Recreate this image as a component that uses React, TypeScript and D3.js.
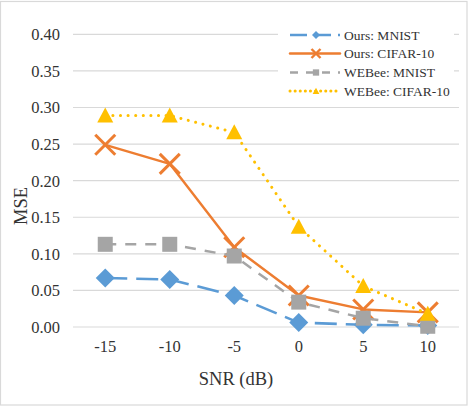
import React from 'react';
import * as d3 from 'd3';

const categories = ['-15', '-10', '-5', '0', '5', '10'];
const oursMnist = [0.067, 0.065, 0.043, 0.006, 0.003, 0.002];
const oursCifar = [0.249, 0.223, 0.109, 0.043, 0.024, 0.02];
const webeeMnist = [0.113, 0.113, 0.097, 0.034, 0.012, 0.001];
const webeeCifar = [0.289, 0.289, 0.266, 0.137, 0.056, 0.018];
const yTicks = [0, 0.05, 0.1, 0.15, 0.2, 0.25, 0.3, 0.35, 0.4];
const seriesNames = ['Ours: MNIST', 'Ours: CIFAR-10', 'WEBee: MNIST', 'WEBee: CIFAR-10'];

const W = 474;
const H = 407;
const FONT = 'Liberation Serif, Times New Roman, Times, serif';

type MType = 'diamond' | 'x' | 'square' | 'triangle';

const seriesDefs: { values: number[]; color: string; dash: string; cap: string; width: number; marker: MType }[] = [
  { values: oursMnist, color: '#5b9bd5', dash: '22 9', cap: 'butt', width: 2.6, marker: 'diamond' },
  { values: oursCifar, color: '#ed7d31', dash: 'none', cap: 'round', width: 2.4, marker: 'x' },
  { values: webeeMnist, color: '#a5a5a5', dash: '11 9', cap: 'butt', width: 2.5, marker: 'square' },
  { values: webeeCifar, color: '#ffc000', dash: '0.1 7.5', cap: 'round', width: 3, marker: 'triangle' },
];

function Marker({ type, x, y, s, color }: { type: MType; x: number; y: number; s: number; color: string }) {
  if (type === 'diamond') {
    const r = 9.5 * s;
    return <path d={`M${x},${y - r}L${x + r},${y}L${x},${y + r}L${x - r},${y}Z`} fill={color} />;
  }
  if (type === 'square') {
    const r = 7.5 * s;
    return <rect x={x - r} y={y - r} width={2 * r} height={2 * r} fill={color} />;
  }
  if (type === 'triangle') {
    const w = 8 * s;
    const h = 14 * s;
    return <path d={`M${x},${y - h / 2 - 1 * s}L${x + w},${y + h / 2}L${x - w},${y + h / 2}Z`} fill={color} />;
  }
  const r = 10 * s;
  return (
    <g stroke={color} strokeWidth={3 * Math.max(s, 0.8)}>
      <line x1={x - r} y1={y - r} x2={x + r} y2={y + r} />
      <line x1={x - r} y1={y + r} x2={x + r} y2={y - r} />
    </g>
  );
}

export default function App() {
  const x = d3.scaleBand<string>().domain(categories).range([73, 460]).padding(0);
  const y = d3.scaleLinear().domain([0, 0.4]).range([327, 34.3]);
  const cx = (c: string) => (x(c) as number) + x.bandwidth() / 2;
  const line = d3
    .line<number>()
    .x((_, i) => cx(categories[i]))
    .y((v) => y(v));

  const legendX0 = 290;
  const legendX1 = 340;
  const legendRows = [35, 53.5, 72.5, 91];
  const tStyle = { fontFamily: FONT };

  return (
    <svg width={W} height={H} style={{ position: 'absolute', left: 0, top: 0, background: '#fff', fontFamily: FONT }}>
      <rect x={0} y={0} width={W} height={H} fill="#fff" />
      <rect x={0.5} y={1.5} width={466.5} height={403.5} fill="none" stroke="#d9d9d9" strokeWidth={1.2} />
      {yTicks.map((t) => (
        <g key={t}>
          <line x1={73} x2={459} y1={y(t)} y2={y(t)} stroke="#d9d9d9" strokeWidth={1.2} />
          <text x={60} y={y(t)} dy="0.36em" textAnchor="end" fontSize={16.5} fill="#333" style={tStyle}>
            {t.toFixed(2)}
          </text>
        </g>
      ))}
      {categories.map((c) => (
        <text key={c} x={cx(c)} y={352} textAnchor="middle" fontSize={16.5} fill="#333" style={tStyle}>
          {c}
        </text>
      ))}
      <text x={236} y={385} textAnchor="middle" fontSize={18.5} fill="#333" style={tStyle}>
        SNR (dB)
      </text>
      <text transform="translate(27,206) rotate(-90)" textAnchor="middle" fontSize={18.5} fill="#333" style={tStyle}>
        MSE
      </text>

      {seriesDefs.map((s, si) => (
        <g key={si}>
          <path
            d={line(s.values) || ''}
            fill="none"
            stroke={s.color}
            strokeWidth={s.width}
            strokeDasharray={s.dash}
            strokeLinecap={s.cap as any}
            strokeLinejoin="round"
          />
          {s.values.map((v, i) => (
            <Marker key={i} type={s.marker} x={cx(categories[i])} y={y(v)} s={1} color={s.color} />
          ))}
        </g>
      ))}

      <rect x={278} y={24} width={176} height={77} fill="#fff" />
      {seriesDefs.map((s, si) => (
        <g key={si}>
          <line
            x1={legendX0}
            x2={legendX1}
            y1={legendRows[si]}
            y2={legendRows[si]}
            stroke={s.color}
            strokeWidth={s.width}
            strokeDasharray={si === 0 ? '17 7' : si === 2 ? '8 8' : si === 3 ? '0.1 5' : 'none'}
            strokeLinecap={s.cap as any}
          />
          <Marker type={s.marker} x={316} y={legendRows[si]} s={si === 1 ? 0.45 : 0.42} color={s.color} />
          <text x={344} y={legendRows[si]} dy="0.35em" fontSize={13.5} fill="#333" style={tStyle}>
            {seriesNames[si]}
          </text>
        </g>
      ))}
    </svg>
  );
}
